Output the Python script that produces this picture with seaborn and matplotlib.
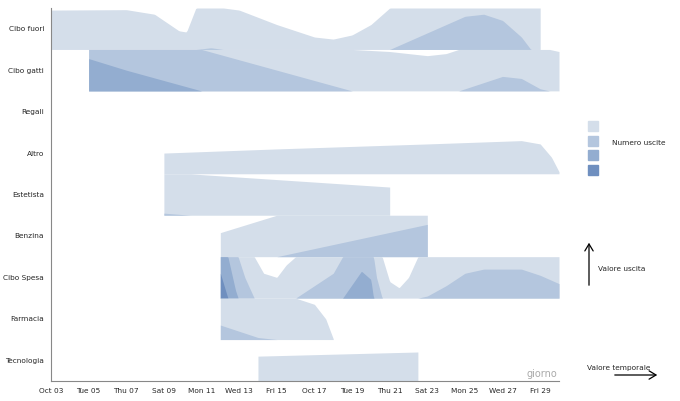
import matplotlib
matplotlib.use("Agg")
import matplotlib.pyplot as plt
import seaborn as sns
import numpy as np
from matplotlib.patches import Rectangle, FancyArrowPatch

# categories top to bottom; values in band units (1 = one band height), x in days from Oct 03
categories = ["Cibo fuori", "Cibo gatti", "Regali", "Altro", "Estetista",
              "Benzina", "Cibo Spesa", "Farmacia", "Tecnologia"]
days = {
    "Cibo fuori": [0, 4, 5.5, 6.8, 7.2, 7.7, 8.5, 10, 12, 14, 15, 16, 17, 18, 19, 20, 21, 22, 23, 24, 25, 25.5, 26],
    "Cibo gatti": [2, 4, 6, 8, 10, 12, 14, 16, 18, 20, 21, 22, 23, 24, 25, 26, 27],
    "Regali": [],
    "Altro": [6, 12, 20, 25, 26, 26.6, 27],
    "Estetista": [6, 8, 18],
    "Benzina": [9, 12, 20],
    "Cibo Spesa": [9, 9.4, 9.8, 10.3, 10.8, 11.3, 12, 12.5, 13, 14, 15, 15.5, 16.5, 17, 17.3, 17.6, 18, 18.5, 19, 19.5, 20, 21, 22, 23, 25, 26, 27],
    "Farmacia": [9, 11, 12, 13, 14, 14.6, 15],
    "Tecnologia": [11, 19.5],
}
values = {
    "Cibo fuori": [0.95, 0.96, 0.85, 0.45, 0.42, 1.0, 1.04, 0.95, 0.6, 0.3, 0.25, 0.35, 0.6, 1.0, 1.2, 1.4, 1.6, 1.8, 1.85, 1.7, 1.3, 1.0, 1.0],
    "Cibo gatti": [2.78, 2.5, 2.25, 2.0, 1.75, 1.5, 1.25, 1.0, 0.95, 0.85, 0.9, 1.05, 1.2, 1.35, 1.3, 1.05, 0.95],
    "Regali": [],
    "Altro": [0.5, 0.6, 0.72, 0.8, 0.72, 0.4, 0.05],
    "Estetista": [1.05, 0.98, 0.68],
    "Benzina": [0.58, 1.0, 1.78],
    "Cibo Spesa": [3.6, 3.0, 2.2, 1.5, 1.0, 0.6, 0.5, 0.8, 1.0, 1.3, 1.6, 2.0, 2.65, 2.45, 1.5, 1.0, 0.4, 0.25, 0.5, 1.0, 1.05, 1.3, 1.6, 1.7, 1.7, 1.55, 1.35],
    "Farmacia": [1.35, 1.05, 1.0, 1.0, 0.85, 0.5, 0.02],
    "Tecnologia": [0.6, 0.7],
}
tick_labels = ["Oct 03", "Tue 05", "Thu 07", "Sat 09", "Mon 11", "Wed 13", "Fri 15",
               "Oct 17", "Tue 19", "Thu 21", "Sat 23", "Mon 25", "Wed 27", "Fri 29"]
colors = ["#d4deea", "#b4c6de", "#93add0", "#6f8fbf"]

sns.set_style("white")
plt.rcParams['font.family'] = ['DejaVu Sans']
fig = plt.figure(figsize=(6.8, 4.01), dpi=100)
ax = fig.add_axes([51 / 680, 1 - 381 / 401, 508 / 680, 373 / 401])

n = len(categories)
for i, cat in enumerate(categories):
    if not days[cat]:
        continue
    base = n - 1 - i
    d = np.array(days[cat], float)
    v = np.array(values[cat], float)
    xs = np.linspace(d[0], d[-1], 400)
    vs = np.interp(xs, d, v)
    for k, c in enumerate(colors):
        layer = np.clip(vs - k, 0, 1)
        if layer.max() <= 0:
            continue
        ax.fill_between(xs, base, base + layer, color=c, lw=0)

ax.set_xlim(0, 27)
ax.set_ylim(0, n)
ax.set_yticks([n - 1 - i + 0.5 for i in range(n)])
ax.set_yticklabels(categories, fontsize=5.3)
ax.set_xticks(range(0, 27, 2))
ax.set_xticklabels(tick_labels, fontsize=5.3)
ax.tick_params(axis="both", length=3, color="#888888", width=0.6, pad=2)
for s in ["top", "right"]:
    ax.spines[s].set_visible(False)
for s in ["left", "bottom"]:
    ax.spines[s].set_color("#888888")
    ax.spines[s].set_linewidth(0.8)
ax.text(26.9, 0.05, "giorno", ha="right", va="bottom", fontsize=7, color="#aaaaaa")

# legend
for j, c in enumerate(colors):
    fig.patches.append(Rectangle((588 / 680, 1 - (131 + j * 14.5) / 401), 10 / 680, 10 / 401,
                                 transform=fig.transFigure, color=c))
fig.text(612 / 680, 1 - 143 / 401, "Numero uscite", fontsize=5.3, va="center")

fig.patches.append(FancyArrowPatch((589 / 680, 1 - 288 / 401), (589 / 680, 1 - 240 / 401),
                                   transform=fig.transFigure, arrowstyle="->,head_width=3,head_length=5",
                                   color="black", lw=0.9))
fig.text(598 / 680, 1 - 269 / 401, "Valore uscita", fontsize=5.3, va="center")
fig.patches.append(FancyArrowPatch((612 / 680, 1 - 375 / 401), (660 / 680, 1 - 375 / 401),
                                   transform=fig.transFigure, arrowstyle="->,head_width=3,head_length=5",
                                   color="black", lw=0.9))
fig.text(587 / 680, 1 - 368 / 401, "Valore temporale", fontsize=5.3, va="center")

fig.savefig("out.png", dpi=100)
